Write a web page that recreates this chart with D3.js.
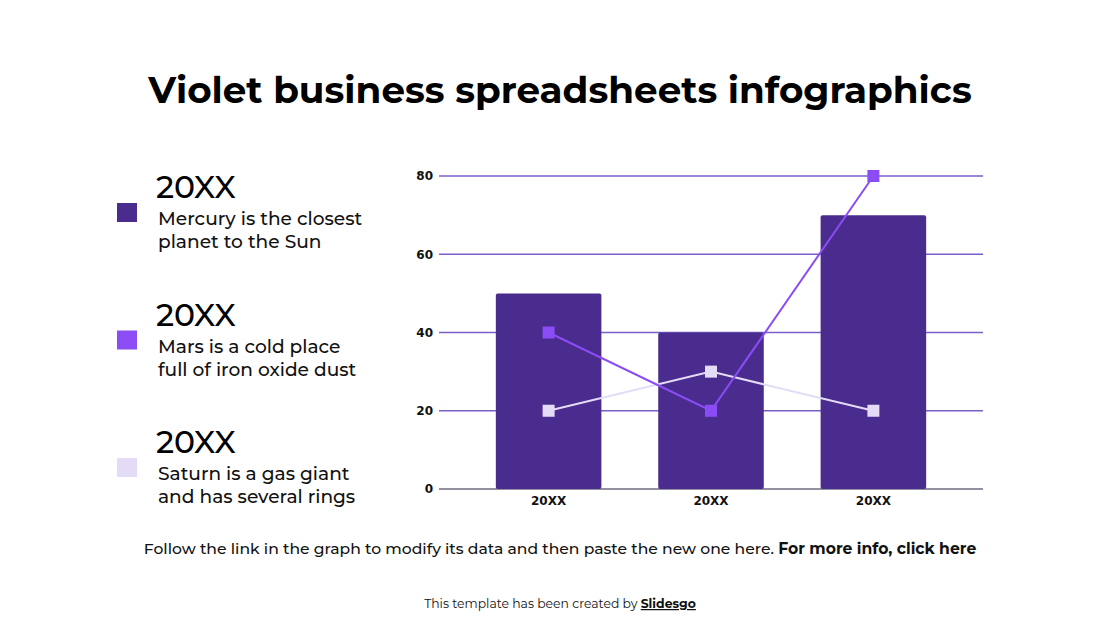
<!DOCTYPE html>
<html>
<head>
<meta charset="utf-8">
<script src="https://cdn.jsdelivr.net/npm/d3@7"></script>
<style>
  body { margin: 0; background: #fff; }
  svg { display: block; }
</style>
</head>
<body>
<svg id="chart" width="1120" height="630"></svg>
<script>
const years = ['20XX', '20XX', '20XX'];
const mercury = [50, 40, 70];
const mars = [40, 20, 80];
const saturn = [20, 30, 20];
const yTicks = [0, 20, 40, 60, 80];

const legendItems = [
  { title: '20XX', lines: ['Mercury is the closest', 'planet to the Sun'], color: '#4a2c8e' },
  { title: '20XX', lines: ['Mars is a cold place', 'full of iron oxide dust'], color: '#8c4cf5' },
  { title: '20XX', lines: ['Saturn is a gas giant', 'and has several rings'], color: '#e4dcf6' }
];

const font = "'Montserrat', 'Noto Sans', 'DejaVu Sans', sans-serif";
const tickFont = "'DejaVu Sans', 'Liberation Sans', Arial, sans-serif";
const svg = d3.select('#chart');

// title
svg.append('text')
  .attr('x', 560).attr('y', 103)
  .attr('text-anchor', 'middle')
  .style('font-family', font).style('font-weight', 700).style('font-size', '37.3px')
  .attr('fill', '#000')
  .text('Violet business spreadsheets infographics');

// chart
const x = d3.scaleBand()
  .domain(d3.range(years.length))
  .range([439, 983])
  .paddingInner(0.35)
  .paddingOuter(0.35);

const y = d3.scaleLinear()
  .domain([0, 80])
  .range([489, 176]);

const grid = svg.append('g');
grid.selectAll('line')
  .data(yTicks)
  .enter()
  .append('line')
    .attr('x1', 439).attr('x2', 983)
    .attr('y1', d => y(d)).attr('y2', d => y(d))
    .attr('stroke', d => d === 0 ? '#6c6c80' : '#7b5fc9')
    .attr('stroke-width', 1.3);

svg.append('g')
  .attr('transform', 'translate(433,0)')
  .call(d3.axisLeft(y).tickValues(yTicks).tickSize(0).tickPadding(0))
  .call(g => g.select('.domain').remove())
  .call(g => g.selectAll('text')
    .style('font-family', tickFont)
    .style('font-weight', 700).style('font-size', '12px').attr('fill', '#111'));

svg.append('g')
  .attr('transform', 'translate(0,489)')
  .call(d3.axisBottom(x).tickFormat(i => years[i]).tickSize(0).tickPadding(7))
  .call(g => g.select('.domain').remove())
  .call(g => g.selectAll('text')
    .style('font-family', tickFont)
    .style('font-weight', 700).style('font-size', '12px').attr('fill', '#111'));

svg.selectAll('rect.bar')
  .data(mercury)
  .enter()
  .append('rect')
    .attr('class', 'bar')
    .attr('x', (d, i) => x(i))
    .attr('y', d => y(d))
    .attr('width', x.bandwidth())
    .attr('height', d => y(0) - y(d))
    .attr('rx', 2)
    .attr('fill', '#4a2c8e');

function series(values, color) {
  const line = d3.line()
    .x((d, i) => x(i) + x.bandwidth() / 2)
    .y(d => y(d));
  svg.append('path')
    .datum(values)
    .attr('d', line)
    .attr('fill', 'none')
    .attr('stroke', color)
    .attr('stroke-width', 2);
  svg.selectAll(null)
    .data(values)
    .enter()
    .append('rect')
      .attr('x', (d, i) => x(i) + x.bandwidth() / 2 - 6)
      .attr('y', d => y(d) - 6)
      .attr('width', 12).attr('height', 12)
      .attr('fill', color);
}
series(saturn, '#e4dcf6');
series(mars, '#8c4cf5');

// legend
const leg = svg.selectAll('g.legend')
  .data(legendItems)
  .enter()
  .append('g')
    .attr('class', 'legend')
    .attr('transform', (d, i) => `translate(0,${i * 127.5})`);

leg.append('rect')
  .attr('x', 117).attr('y', 203)
  .attr('width', 20).attr('height', 19)
  .attr('fill', d => d.color);

leg.append('text')
  .attr('x', 156).attr('y', 198)
  .style('font-family', font).style('font-weight', 500).style('font-size', '31.5px')
  .attr('fill', '#000')
  .text(d => d.title);

leg.each(function(d) {
  d3.select(this).selectAll('text.line')
    .data(d.lines)
    .enter()
    .append('text')
      .attr('class', 'line')
      .attr('x', 158).attr('y', (t, j) => 225 + j * 23)
      .style('font-family', font).style('font-weight', 500).style('font-size', '18.6px')
      .attr('fill', '#111')
      .text(t => t);
});

// footer
const foot = svg.append('text')
  .attr('x', 560).attr('y', 554)
  .attr('text-anchor', 'middle')
  .style('font-family', font).style('font-weight', 500).style('font-size', '15.6px')
  .attr('fill', '#111');
foot.append('tspan').text('Follow the link in the graph to modify its data and then paste the new one here. ');
foot.append('tspan').style('font-weight', 700).text('For more info, click here');

const credit = svg.append('text')
  .attr('x', 560).attr('y', 608)
  .attr('text-anchor', 'middle')
  .style('font-family', font).style('font-size', '12.4px')
  .attr('fill', '#111');
credit.append('tspan').text('This template has been created by ');
credit.append('tspan').style('font-weight', 700).style('text-decoration', 'underline').text('Slidesgo');
</script>
</body>
</html>
